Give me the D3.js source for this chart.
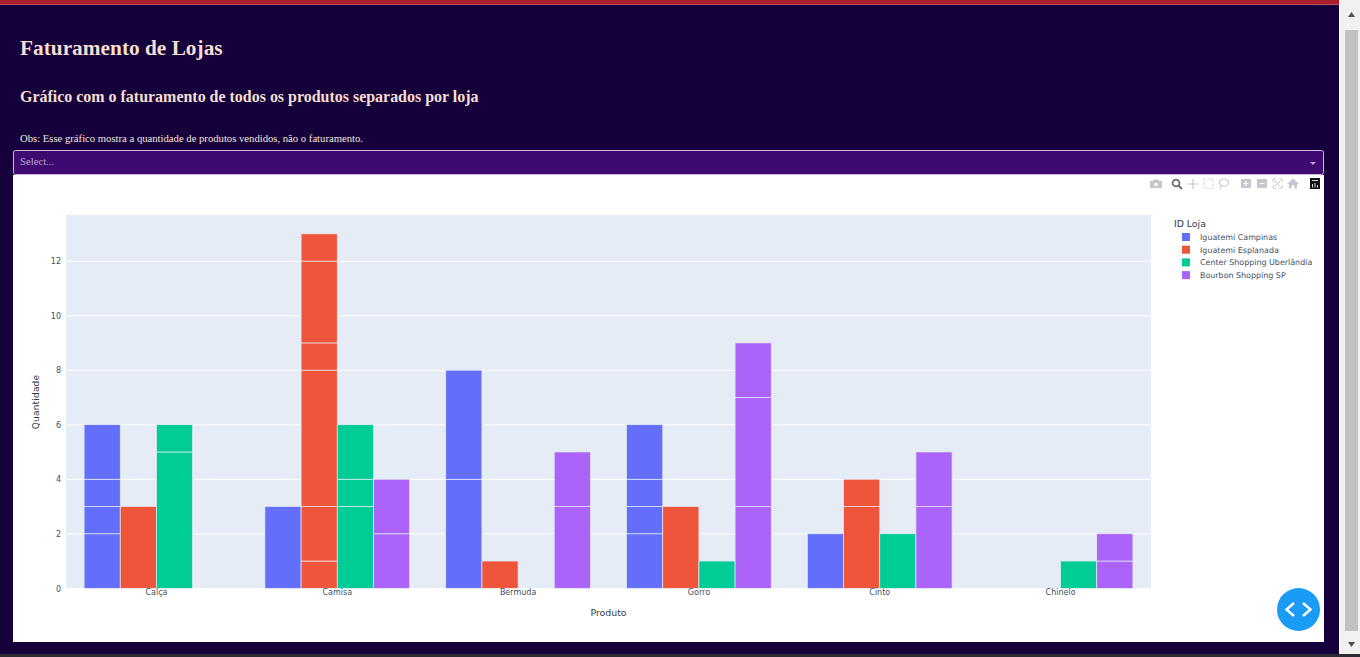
<!DOCTYPE html>
<html lang="pt">
	<head>
		<meta charset="utf-8">
		<title>Faturamento de Lojas</title>
		<script src="https://d3js.org/d3.v7.min.js"></script>
		<style>
			html,body{margin:0;padding:0;width:1360px;height:657px;overflow:hidden;background:#16003b;}
			svg{display:block;position:absolute;left:0;top:0;}
			.plotfont{font-family:"DejaVu Sans",Verdana,sans-serif;}
			.serif{font-family:"Liberation Serif","Times New Roman",serif;}
			.axis path{display:none;}
			.axis line{display:none;}
			.axis text{font-family:"DejaVu Sans",Verdana,sans-serif;font-size:8px;fill:#44505f;}
		</style>
	</head>
	<body>
		<svg id="page" width="1360" height="657"></svg>
		<script>

			var produtos = ["Calça","Camisa","Bermuda","Gorro","Cinto","Chinelo"];
			var lojas = ["Iguatemi Campinas","Iguatemi Esplanada","Center Shopping Uberlândia","Bourbon Shopping SP"];
			var cores = ["#636efa","#ef553b","#00cc96","#ab63fa"];
			var yTicks = [0,2,4,6,8,10,12];

			// each product lists the stacked pieces sold, in the order they stack
			var iguatemiCampinas = [[2,1,1,2],[3],[4,4],[2,1,1,2],[2],[]];
			var iguatemiEsplanada = [[3],[1,2,5,1,3,1],[1],[3],[3,1],[]];
			var centerUberlandia = [[5,1],[3,1,2],[],[1],[2],[1]];
			var bourbonSP = [[],[2,2],[3,2],[3,4,2],[3,2],[1,1]];
			var vendas = [iguatemiCampinas,iguatemiEsplanada,centerUberlandia,bourbonSP];

			var svg = d3.select("#page");

			// page furniture
			svg.append("rect").attr("x",0).attr("y",0).attr("width",1339).attr("height",4).attr("fill","#a91e2c");
			svg.append("rect").attr("x",0).attr("y",4).attr("width",1339).attr("height",1).attr("fill","#c2505a");
			svg.append("rect").attr("x",1339).attr("y",0).attr("width",21).attr("height",657).attr("fill","#f1f1f1");
			svg.append("rect").attr("x",1339).attr("y",0).attr("width",1).attr("height",657).attr("fill","#ffffff");
			svg.append("rect").attr("x",1345).attr("y",30).attr("width",13).attr("height",601).attr("fill","#c1c1c1");
			svg.append("path").attr("d","M1348 17L1355 17L1351.500 12Z").attr("fill","#505050");
			svg.append("path").attr("d","M1348 642L1355 642L1351.500 647Z").attr("fill","#505050");
			svg.append("rect").attr("x",0).attr("y",654).attr("width",1360).attr("height",3).attr("fill","#2c2c34");

			svg.append("text").attr("class","serif").attr("x",20).attr("y",55)
				.attr("font-size",21.330).attr("font-weight","bold").attr("fill","#f2dfd0").text("Faturamento de Lojas");
			svg.append("text").attr("class","serif").attr("x",20).attr("y",102)
				.attr("font-size",15.960).attr("font-weight","bold").attr("fill","#f2dfd0").text("Gráfico com o faturamento de todos os produtos separados por loja");
			svg.append("text").attr("class","serif").attr("x",20).attr("y",142)
				.attr("font-size",10.670).attr("fill","#f2e6dc").text("Obs: Esse gráfico mostra a quantidade de produtos vendidos, não o faturamento.");

			// select box
			svg.append("rect").attr("x",13.500).attr("y",150.500).attr("width",1310).attr("height",24).attr("rx",2)
				.attr("fill","#3f0a70").attr("stroke","#c9b8e0");
			svg.append("text").attr("class","serif").attr("x",20).attr("y",165)
				.attr("font-size",10.700).attr("fill","#b9a6cf").text("Select...");
			svg.append("path").attr("d","M1310 162L1316 162L1313 165Z").attr("fill","#b9a6cf");

			// chart card
			svg.append("rect").attr("x",13).attr("y",175).attr("width",1311).attr("height",467).attr("fill","#ffffff");

			var border = {left:66,right:1151,top:215,bottom:588};

			var xScale = d3.scaleBand()
				.domain(produtos)
				.range([border.left,border.right])
				.paddingInner(0.2)
				.paddingOuter(0.1);

			var groupScale = d3.scaleBand()
				.domain(lojas)
				.range([0,xScale.bandwidth()]);

			var yScale = d3.scaleLinear()
				.domain([0,13.68])
				.range([border.bottom,border.top]);

			svg.append("rect").attr("x",border.left).attr("y",border.top)
				.attr("width",border.right-border.left).attr("height",border.bottom-border.top).attr("fill","#e5ecf6");

			svg.append("g").selectAll("line")
				.data(yTicks.slice(1))
				.enter()
				.append("line")
				.attr("x1",border.left).attr("x2",border.right)
				.attr("y1",d=>yScale(d)+0.5).attr("y2",d=>yScale(d)+0.5)
				.attr("stroke","#ffffff");

			// flatten pieces into rects with running totals
			var pecas = [];
			vendas.forEach(function(serie,s){
				serie.forEach(function(lista,p){
					var soma = 0;
					lista.forEach(function(v){
						pecas.push({loja:lojas[s],cor:cores[s],produto:produtos[p],y0:soma,y1:soma+v});
						soma += v;
					});
				});
			});

			svg.append("g").selectAll("rect")
				.data(pecas)
				.enter()
				.append("rect")
				.attr("x",d=>xScale(d.produto)+groupScale(d.loja))
				.attr("width",groupScale.bandwidth())
				.attr("y",d=>yScale(d.y1)+0.3)
				.attr("height",d=>yScale(d.y0)-yScale(d.y1))
				.attr("fill",d=>d.cor)
				.attr("stroke","#e5ecf6")
				.attr("stroke-width",0.7);

			var xAxis = d3.axisBottom().scale(xScale).tickSize(0).tickPadding(0);
			var yAxis = d3.axisLeft().scale(yScale).tickValues(yTicks).tickSize(0).tickPadding(5);

			svg.append("g").attr("class","x axis")
				.attr("transform","translate(0,"+(border.bottom+1)+")").call(xAxis);
			svg.append("g").attr("class","y axis")
				.attr("transform","translate("+border.left+",0.500)").call(yAxis);

			svg.append("text").attr("class","plotfont").attr("x",608.500).attr("y",616)
				.attr("text-anchor","middle").attr("font-size",9.400).attr("fill","#2f3b4d").text("Produto");
			svg.append("text").attr("class","plotfont")
				.attr("transform","translate(39,402) rotate(-90)")
				.attr("text-anchor","middle").attr("font-size",9).attr("letter-spacing",0.2).attr("fill","#2f3b4d").text("Quantidade");

			// legend
			svg.append("text").attr("class","plotfont").attr("x",1174).attr("y",227)
				.attr("font-size",9.300).attr("fill","#2f3b4d").text("ID Loja");
			var legenda = svg.append("g").selectAll("g")
				.data(lojas)
				.enter()
				.append("g")
				.attr("transform",(d,i)=>"translate(1182,"+(237+i*12.700)+")");
			legenda.append("rect").attr("x",0).attr("y",-4).attr("width",8).attr("height",8)
				.attr("fill",(d,i)=>cores[i]);
			legenda.append("text").attr("class","plotfont").attr("x",18).attr("y",3)
				.attr("font-size",7.950).attr("fill","#44505f").text(d=>d);

			// modebar, drawn as rough glyphs
			var bar = svg.append("g").attr("fill","#c4c8ce").attr("stroke","none");
			bar.append("path").attr("d","M1150 181H1153L1154 179.500H1158L1159 181H1162V188H1150Z");
			bar.append("circle").attr("cx",1156).attr("cy",184.500).attr("r",1.800).attr("fill","#ffffff");
			svg.append("circle").attr("cx",1176).attr("cy",183).attr("r",3.400).attr("fill","none").attr("stroke","#6a6f76").attr("stroke-width",1.800);
			svg.append("line").attr("x1",1178.500).attr("y1",185.500).attr("x2",1182).attr("y2",189).attr("stroke","#6a6f76").attr("stroke-width",2);
			svg.append("path").attr("d","M1193 178.500V189M1187.500 184H1198.500").attr("stroke","#c4c8ce").attr("stroke-width",1.200).attr("fill","none");
			svg.append("rect").attr("x",1204).attr("y",179).attr("width",9).attr("height",9.500).attr("fill","none").attr("stroke","#c4c8ce").attr("stroke-dasharray","1 1");
			svg.append("ellipse").attr("cx",1224).attr("cy",182.500).attr("rx",4.500).attr("ry",3.500).attr("fill","none").attr("stroke","#c4c8ce").attr("stroke-width",1.200);
			svg.append("path").attr("d","M1221 185.500L1220.500 189").attr("stroke","#c4c8ce").attr("fill","none");
			bar.append("rect").attr("x",1241).attr("y",179).attr("width",10).attr("height",9);
			bar.append("rect").attr("x",1257).attr("y",179).attr("width",10).attr("height",9);
			svg.append("path").attr("d","M1243.500 183.500h5M1246 181v5M1259.500 183.500h5").attr("stroke","#ffffff").attr("stroke-width",1.200).attr("fill","none");
			svg.append("path").attr("d","M1275 181L1280 186M1280 181L1275 186M1273 182V179H1276M1279 179H1282V182M1282 185V188H1279M1276 188H1273V185")
				.attr("stroke","#c4c8ce").attr("stroke-width",1).attr("fill","none");
			bar.append("path").attr("d","M1293 178.500L1299 184H1297V188.500H1294.500V185.500H1291.500V188.500H1289V184H1287Z");
			svg.append("rect").attr("x",1310).attr("y",178).attr("width",10).attr("height",11).attr("fill","#111111");
			svg.append("path").attr("d","M1312 180.500H1318M1312.500 187.500V184M1315 187.500V183M1317.500 187.500V185").attr("stroke","#d8d8d8").attr("stroke-width",1).attr("fill","none");

			// floating round button
			svg.append("circle").attr("cx",1298.500).attr("cy",609.500).attr("r",21.500).attr("fill","#1a9bf5");
			svg.append("path").attr("d","M1294 603L1286.500 609.500L1294 616M1303 603L1310.500 609.500L1303 616")
				.attr("fill","none").attr("stroke","#ffffff").attr("stroke-width",2.500);
		</script>
	</body>
</html>
